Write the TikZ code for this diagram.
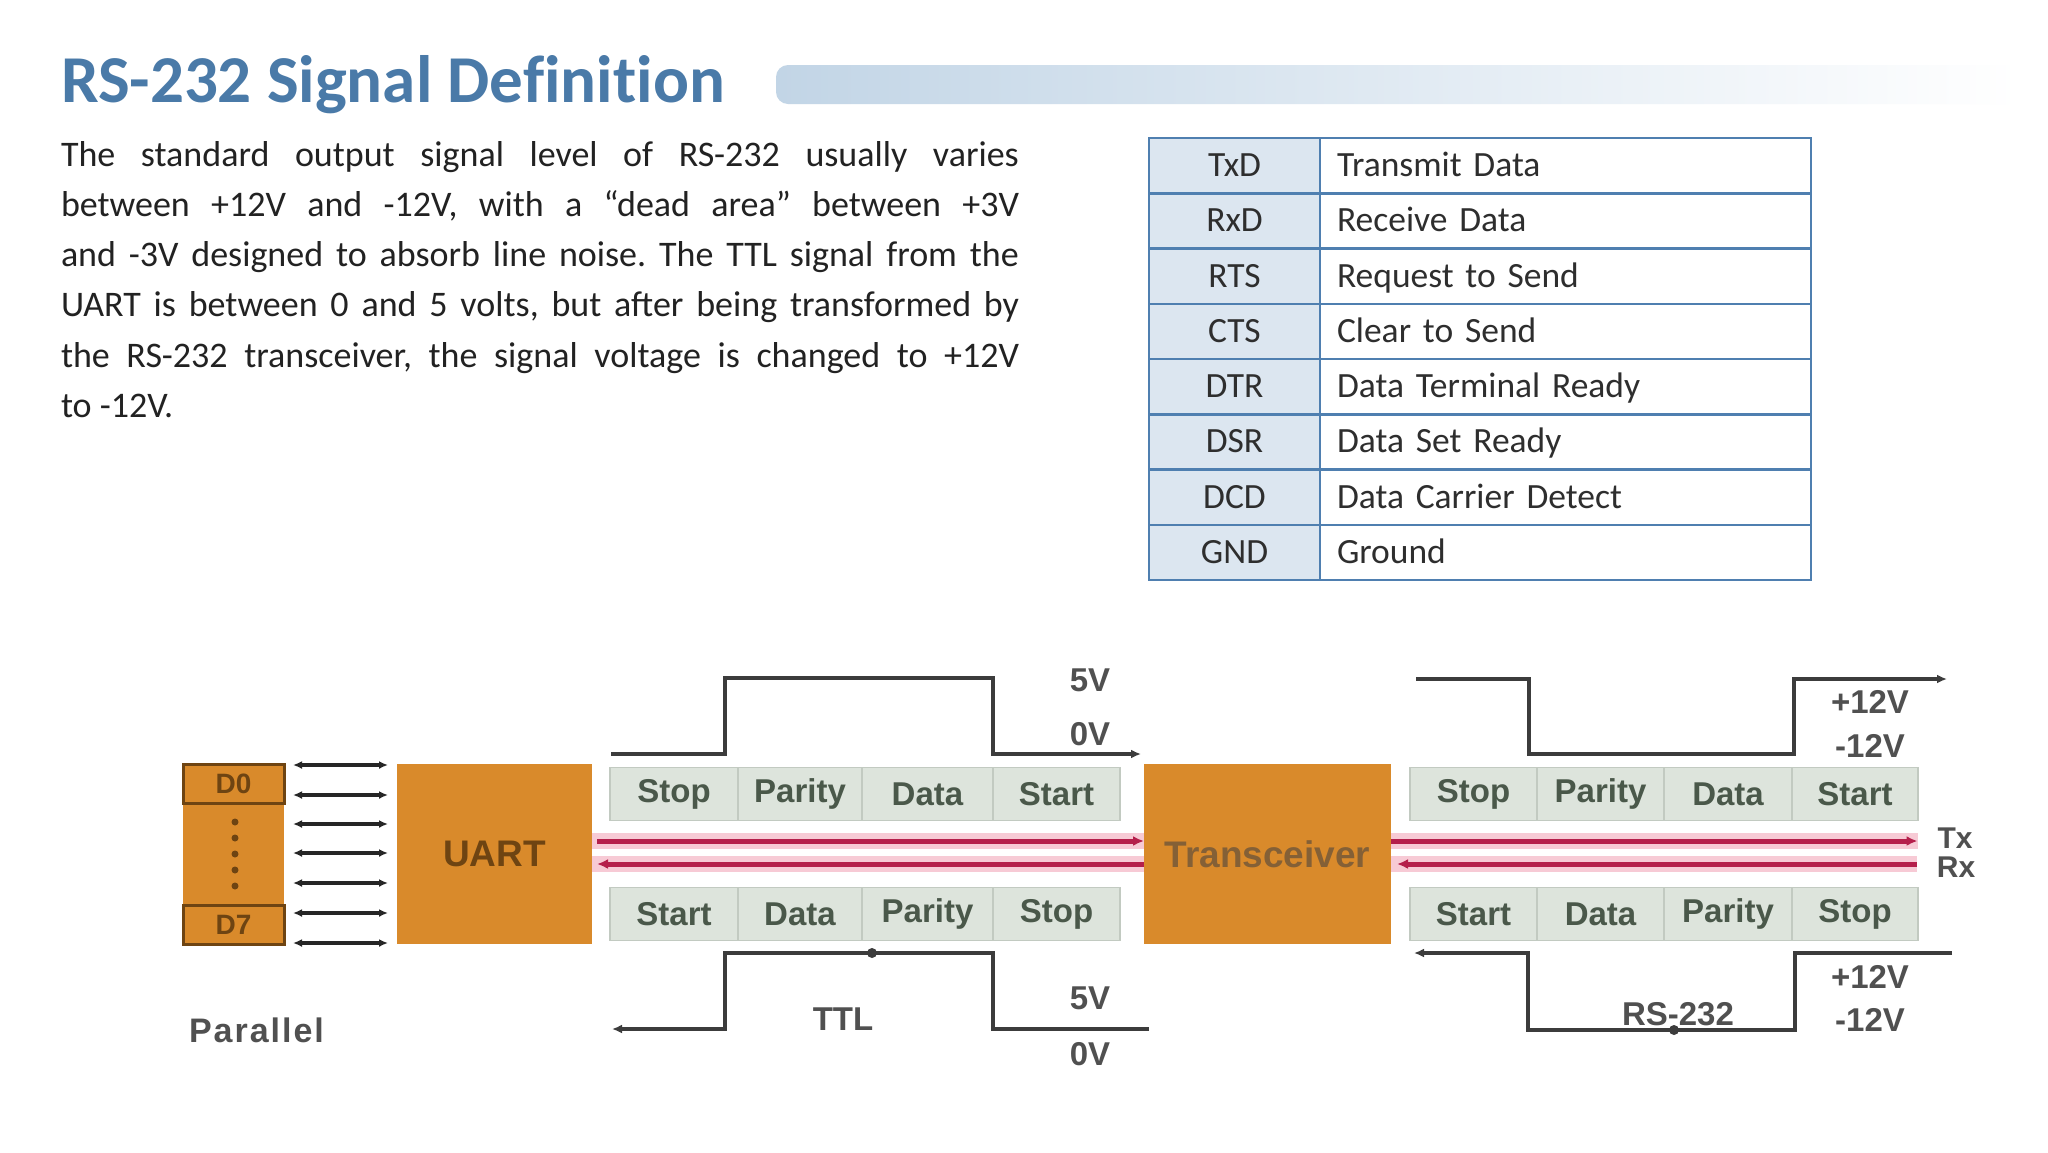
\documentclass[tikz,border=0pt]{standalone}
\usepackage{fontspec}
\setmainfont{Carlito}
\newfontfamily\titlefont[Ligatures=CommonOff]{Carlito}
\newfontfamily\diagfont{Liberation Sans}
\usetikzlibrary{arrows.meta,calc}
\definecolor{titleblue}{HTML}{4A7AA8}
\definecolor{barblue}{HTML}{C2D5E6}
\definecolor{paratext}{HTML}{222222}
\definecolor{tblborder}{HTML}{4F7FB0}
\definecolor{tblfill}{HTML}{DCE6F0}
\definecolor{tbltext}{HTML}{2E2E2E}
\definecolor{orangebox}{HTML}{D98A2B}
\definecolor{brownt}{HTML}{6E4412}
\definecolor{cellfill}{HTML}{DDE4DC}
\definecolor{cellline}{HTML}{C2CAC1}
\definecolor{celltext}{HTML}{4A584A}
\definecolor{wave}{HTML}{3C3C3C}
\definecolor{redline}{HTML}{B51F4B}
\definecolor{halo}{HTML}{F7CAD5}
\definecolor{lbl}{HTML}{505050}
\frenchspacing
\begin{document}
\begin{tikzpicture}[x=1pt,y=-1pt,
  every node/.style={inner sep=0pt, outer sep=0pt},
  para/.style={anchor=base west, font=\fontsize{36}{42}\selectfont, text=paratext},
  lcell/.style={draw=tblborder, line width=2.5pt, fill=tblfill, minimum width=171pt, minimum height=55.25pt,
    font=\fontsize{35.5}{40}\selectfont, text=tbltext, text height=22pt, text depth=0pt},
  rcell/.style={draw=tblborder, line width=2.5pt, fill=white, minimum width=491pt, minimum height=55.25pt,
    font=\fontsize{35.5}{40}\selectfont, text=tbltext, text height=22pt, text depth=0pt, text width=457pt, align=left},
  orblock/.style={fill=orangebox, draw=none},
  dbox/.style={draw=brownt, line width=3pt, fill=orangebox, minimum width=101pt, minimum height=39pt,
    font=\diagfont\bfseries\fontsize{28}{30}\selectfont, text=brownt},
  blocklabel/.style={font=\diagfont\bfseries\fontsize{37}{40}\selectfont, text=brownt},
  cell/.style={draw=cellline, line width=1.5pt, fill=cellfill, minimum height=53pt,
    font=\diagfont\bfseries\fontsize{33}{36}\selectfont, text=celltext},
  vlab/.style={font=\diagfont\bfseries\fontsize{33}{36}\selectfont, text=lbl},
  wavestyle/.style={draw=wave, line width=3.5pt},
  parrow/.style={draw=black!85, line width=3.5pt, {Latex[length=9pt,width=8pt]}-{Latex[length=9pt,width=8pt]}},
  halostyle/.style={draw=halo, line width=16pt},
  redarrow/.style={draw=redline, line width=5pt, -{Latex[length=11pt,width=10pt]}},
]
\useasboundingbox (0,0) rectangle (2048,1152);
\fill[white] (0,0) rectangle (2048,1152);

% ---------- title and bar ----------
\shade[left color=barblue, right color=white, rounded corners=12pt] (776,65) rectangle (2020,104);
\node[anchor=base west, font=\titlefont\fontsize{67}{72}\selectfont\bfseries, text=titleblue] (title) at (61,102) {RS-232 Signal Definition};

% ---------- paragraph ----------
\node[para] (p1) at (61,166) {\makebox[958pt][s]{The standard output signal level of RS-232 usually varies}};
\node[para] (p2) at (61,216) {\makebox[958pt][s]{between +12V and -12V, with a “dead area” between +3V}};
\node[para] (p3) at (61,266) {\makebox[958pt][s]{and -3V designed to absorb line noise. The TTL signal from the}};
\node[para] (p4) at (61,316) {\makebox[958pt][s]{UART is between 0 and 5 volts, but after being transformed by}};
\node[para] (p5) at (61,367) {\makebox[958pt][s]{the RS-232 transceiver, the signal voltage is changed to +12V}};
\node[para] (p6) at (61,417) {to -12V.};

% ---------- table ----------
\foreach \ab/\desc [count=\i from 0] in {TxD/Transmit Data, RxD/Receive Data, RTS/Request to Send, CTS/Clear to Send,
   DTR/Data Terminal Ready, DSR/Data Set Ready, DCD/Data Carrier Detect, GND/Ground}{
  \pgfmathsetmacro\cy{138+55.25*\i+27.625}
  \node[lcell] (ta\i) at (1234.5,\cy) {\ab};
  \node[rcell] (tb\i) at (1565.5,\cy) {\desc};
}

% ---------- parallel block ----------
\node[orblock, minimum width=101pt, minimum height=180pt] (par) at (233.5,854) {};
\node[dbox] (d0) at (233.5,784) {D0};
\node[dbox] (d7) at (233.5,925) {D7};
\foreach \yy [count=\k] in {822,838,854,870,886}{
  \fill[brownt] (235,\yy) circle (3.5pt);
}
\node[anchor=west, font=\diagfont\bfseries\fontsize{34}{36}\selectfont, text=lbl] (parlab) at (189,1030)
  {P\kern2pt a\kern2pt r\kern2pt a\kern2pt l\kern2pt l\kern2pt e\kern2pt l};

% ---------- UART & transceiver ----------
\node[orblock, minimum width=195pt, minimum height=180pt, blocklabel] (uart) at (494.5,854) {UART};
\node[orblock, minimum width=247pt, minimum height=180pt, blocklabel, text=brownt!85] (trx) at (1267.5,854) {Transceiver};

% parallel bus arrows
\foreach \yy in {765,795,824,853,883,913,943}{
  \draw[parrow] (par.east |- 0,\yy) ++(9,0) -- ($(uart.west |- 0,\yy)+(-9,0)$);
}

% ---------- frame cells ----------
\foreach \xa/\xb/\lab [count=\i] in {610/738/Stop,738/862/Parity,862/993/Data,993/1120/Start}{
  \pgfmathsetmacro\w{\xb-\xa}
  \pgfmathsetmacro\cx{(\xa+\xb)/2}
  \node[cell, minimum width=\w pt] (tu\i) at (\cx,794) {\lab};
}
\foreach \xa/\xb/\lab [count=\i] in {610/738/Start,738/862/Data,862/993/Parity,993/1120/Stop}{
  \pgfmathsetmacro\w{\xb-\xa}
  \pgfmathsetmacro\cx{(\xa+\xb)/2}
  \node[cell, minimum width=\w pt] (tl\i) at (\cx,914) {\lab};
}
\foreach \xa/\xb/\lab [count=\i] in {1410/1537/Stop,1537/1664/Parity,1664/1792/Data,1792/1918/Start}{
  \pgfmathsetmacro\w{\xb-\xa}
  \pgfmathsetmacro\cx{(\xa+\xb)/2}
  \node[cell, minimum width=\w pt] (ru\i) at (\cx,794) {\lab};
}
\foreach \xa/\xb/\lab [count=\i] in {1410/1537/Start,1537/1664/Data,1664/1792/Parity,1792/1918/Stop}{
  \pgfmathsetmacro\w{\xb-\xa}
  \pgfmathsetmacro\cx{(\xa+\xb)/2}
  \node[cell, minimum width=\w pt] (rl\i) at (\cx,914) {\lab};
}

% ---------- Tx / Rx lines ----------
\node[font=\diagfont\bfseries\fontsize{30}{32}\selectfont, text=lbl] (txlab) at (1955,838) {Tx};
\node[font=\diagfont\bfseries\fontsize{30}{32}\selectfont, text=lbl] (rxlab) at (1956,867) {Rx};

\draw[halostyle] (uart.east |- 0,841) -- (trx.west |- 0,841);
\draw[halostyle] (uart.east |- 0,864) -- (trx.west |- 0,864);
\draw[halostyle] (trx.east |- 0,841) -- ($(txlab.west)+(-20,3)$);
\draw[halostyle] (trx.east |- 0,864) -- ($(rxlab.west)+(-20,-3)$);

\draw[redarrow, shorten <=5pt] (uart.east |- 0,841) -- (trx.west |- 0,841);
\draw[redarrow, shorten >=5pt] (trx.west |- 0,864) -- (uart.east |- 0,864);
\draw[redarrow] (trx.east |- 0,841) -- ($(txlab.west)+(-20,3)$);
\draw[redarrow, shorten >=6pt] ($(rxlab.west)+(-20,-3)$) -- (trx.east |- 0,864);

% ---------- TTL waveforms ----------
\draw[wavestyle, -{Latex[length=10pt,width=9pt]}] (611,754) -- (725,754) -- (725,678) -- (993,678) -- (993,754) -- (1141,754);
\draw[wavestyle, -{Latex[length=10pt,width=9pt]}] (1149,1029) -- (993,1029) -- (993,953) -- (725,953) -- (725,1029) -- (612,1029);
\fill[wave] (872,953) circle (5pt);
\node[vlab] (v5a) at (1090,680) {5V};
\node[vlab] (v0a) at (1090,734) {0V};
\node[vlab] (v5b) at (1090,998) {5V};
\node[vlab] (v0b) at (1090,1054) {0V};
\node[vlab] (ttl) at (843,1019) {TTL};

% ---------- RS-232 waveforms ----------
\draw[wavestyle, -{Latex[length=10pt,width=9pt]}] (1416,679) -- (1529,679) -- (1529,754) -- (1794,754) -- (1794,679) -- (1947,679);
\draw[wavestyle, -{Latex[length=10pt,width=9pt]}] (1952,953) -- (1795,953) -- (1795,1030) -- (1528,1030) -- (1528,953) -- (1414,953);
\fill[wave] (1674,1030) circle (5pt);
\node[vlab] (p12a) at (1870,702) {+12V};
\node[vlab] (m12a) at (1870,746) {-12V};
\node[vlab] (p12b) at (1870,977) {+12V};
\node[vlab] (m12b) at (1870,1020) {-12V};
\node[vlab, anchor=base] (rslab) at (1678,1025) {RS-232};
\end{tikzpicture}
\end{document}
